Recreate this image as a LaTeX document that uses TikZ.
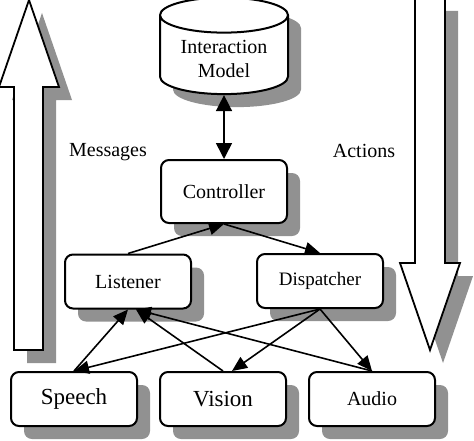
\documentclass[tikz,border=0pt]{standalone}
\usepackage{fontspec}
\setmainfont{Liberation Serif}
\usetikzlibrary{arrows.meta,positioning,shapes.geometric,shadows}
\definecolor{shadowgray}{RGB}{145,145,145}

\begin{document}
\begin{tikzpicture}[
  x=0.5pt,y=0.5pt,
  node distance=10.5pt,
  shd/.style={drop shadow={shadow xshift=6.5pt,shadow yshift=-6.5pt,fill=shadowgray,opacity=1}},
  box/.style={draw,line width=1pt,rounded corners=4pt,fill=white,shd,minimum width=63pt,minimum height=27pt,font=\fontsize{10}{12}\selectfont},
  big/.style={box,font=\fontsize{11.5}{13}\selectfont},
  db/.style={cylinder,shape border rotate=90,aspect=0.35,draw,line width=1pt,fill=white,shd,minimum width=64pt,minimum height=43pt,align=center,font=\fontsize{10}{12}\selectfont},
  fat/.style={draw,line width=0.9pt,fill=white,shd},
  arr/.style={-{Triangle[length=7.5pt,width=6.5pt]},line width=0.8pt},
  darr/.style={{Triangle[length=8pt,width=8pt]}-{Triangle[length=8pt,width=8pt]},line width=0.8pt}
]
\useasboundingbox (0,0) rectangle (474,440);
% big arrows at the sides
\draw[fat] (14,90) -- (14,353) -- (-1,353) -- (29,440) -- (59,353) -- (43,353) -- (43,90) -- cycle;
\draw[fat] (415,442) -- (415,177) -- (400,177) -- (430,90) -- (460,177) -- (445,177) -- (445,442) -- cycle;
\node (msg) at (108,288) {Messages};
\node (act) at (364,289) {Actions};
% model and controller
\node[db] (model) at (224,381) {Interaction\\Model};
\node[box,minimum height=31.5pt] (ctrl) at (224,248.5) {Controller};
\node[box] (lis) at (128,158.5) {Listener};
\node[box,font=\fontsize{9.5}{11}\selectfont] (disp) at (320,159) {Dispatcher};
% devices
\node[big] (sp) at (74,41) {Speech};
\node[big,right=of sp] (vis) {Vision};
\node[box,right=of vis] (aud) {Audio};
\draw[darr] (model.south) -- (ctrl.north);
\draw[arr] (lis.north) -- (ctrl.south);
\draw[arr] (ctrl.south) -- (disp.north);
\draw[arr] (sp.north) -- (lis.south);
\draw[arr] (vis.north) -- ([xshift=4pt]lis.south);
\draw[arr] (aud.north) -- ([xshift=4pt]lis.south);
\draw[arr] (disp.south) -- (sp.north);
\draw[arr] (disp.south) -- ([xshift=4.5pt]vis.north);
\draw[arr] (disp.south) -- (aud.north);
\end{tikzpicture}
\end{document}
